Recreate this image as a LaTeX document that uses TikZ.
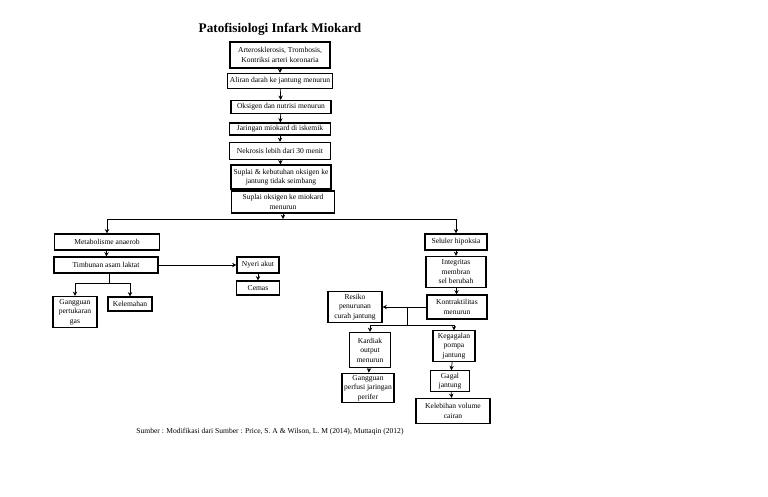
\documentclass[tikz,border=0pt]{standalone}
\usepackage{fontspec}
\setmainfont{Liberation Serif}
\usetikzlibrary{arrows.meta}
\tikzset{
  box/.style={draw, semithick, fill=white, align=center, font=\fontsize{4.3}{5.4}\selectfont, inner sep=1.2pt},
  line/.style={draw, thin},
  arr/.style={line, -{Stealth[length=2.5pt,width=2.5pt]}}
}
\begin{document}
\begin{tikzpicture}[x=0.02cm, y=-0.02cm]
\useasboundingbox (0,0) rectangle (768,497);
\node[font=\fontsize{7.5}{9}\selectfont\bfseries] (title) at (280,29) {Patofisiologi Infark Miokard};
\draw
(280,55) node [box, minimum width=2cm, minimum height=0.52cm] (1) {Arterosklerosis, Trombosis,\\Kontriksi arteri koronaria}
(280,81) node [box, minimum width=2.04cm, minimum height=0.3cm] (2) {Aliran darah ke jantung menurun}
(281,107) node [box, minimum width=2cm, minimum height=0.26cm] (3) {Oksigen dan nutrisi menurun}
(280,129) node [box, minimum width=2.02cm, minimum height=0.24cm] (4) {Jaringan miokard di iskemik}
(280,151) node [box, minimum width=2.02cm, minimum height=0.34cm] (5) {Nekrosis lebih dari 30 menit}
(281,177) node [box, minimum width=2cm, minimum height=0.48cm] (6) {Suplai \& kebutuhan oksigen ke\\jantung tidak seimbang}
(283,202) node [box, minimum width=2.06cm, minimum height=0.44cm] (7) {Suplai oksigen ke miokard\\menurun}
(107,242) node [box, minimum width=2.1cm, minimum height=0.32cm] (8) {Metabolisme anaerob}
(106,265) node [box, minimum width=2.08cm, minimum height=0.32cm] (9) {Timbunan asam laktat}
(258,265) node [box, minimum width=0.84cm, minimum height=0.32cm] (10) {Nyeri akut}
(258,288) node [box, minimum width=0.86cm, minimum height=0.28cm] (11) {Cemas}
(75,312) node [box, minimum width=0.88cm, minimum height=0.62cm] (12) {Gangguan\\pertukaran\\gas}
(130,304) node [box, minimum width=0.88cm, minimum height=0.28cm] (13) {Kelemahan}
(456,242) node [box, minimum width=1.24cm, minimum height=0.32cm] (14) {Seluler hipoksia}
(456,272) node [box, minimum width=1.2cm, minimum height=0.62cm] (15) {Integritas\\membran\\sel berubah}
(457,307) node [box, minimum width=1.2cm, minimum height=0.48cm] (16) {Kontraktilitas\\menurun}
(355,307) node [box, minimum width=1.08cm, minimum height=0.6cm] (17) {Resiko\\penurunan\\curah jantung}
(370,350) node [box, minimum width=0.82cm, minimum height=0.7cm] (18) {Kardiak\\output\\menurun}
(454,346) node [box, minimum width=0.84cm, minimum height=0.6cm] (19) {Kegagalan\\pompa\\jantung}
(368,388) node [box, minimum width=1.04cm, minimum height=0.54cm] (20) {Gangguan\\perfusi jaringan\\perifer}
(450,381) node [box, minimum width=0.78cm, minimum height=0.4cm] (21) {Gagal\\jantung}
(453,411) node [box, minimum width=1.48cm, minimum height=0.5cm] (22) {Kelebihan volume\\cairan};
\coordinate (s) at (283,219);
\coordinate (k) at (109,283);
\coordinate (r) at (407,307);
\coordinate (q) at (407,325);
\draw[arr] (1) -- (2);
\draw[arr] (2) -- (3);
\draw[arr] (3) -- (4);
\draw[arr] (4) -- (5);
\draw[arr] (5) -- (6);
\draw[arr] (7) -- (s);
\draw[arr] (s) -| (8);
\draw[arr] (s) -| (14);
\draw[arr] (8) -- (9);
\draw[arr] (9) -- (10);
\draw[arr] (10) -- (11);
\draw[line] (9.south -| k) -- (k);
\draw[arr] (k) -| (12);
\draw[arr] (k) -| (13);
\draw[arr] (14) -- (15);
\draw[arr] (15) -- (16);
\draw[arr] (16) -- (17);
\draw[line] (r) -- (q);
\draw[arr] (q) -| (18);
\draw[arr] (q) -| (19);
\draw[arr] (18) -- (20);
\draw[arr] (19) -- (21);
\draw[arr] (21) -- (22);
\node[font=\fontsize{4.3}{5.4}\selectfont] (src) at (270,432) {Sumber : Modifikasi dari Sumber : Price, S. A \& Wilson, L. M (2014), Muttaqin (2012)};
\end{tikzpicture}
\end{document}
